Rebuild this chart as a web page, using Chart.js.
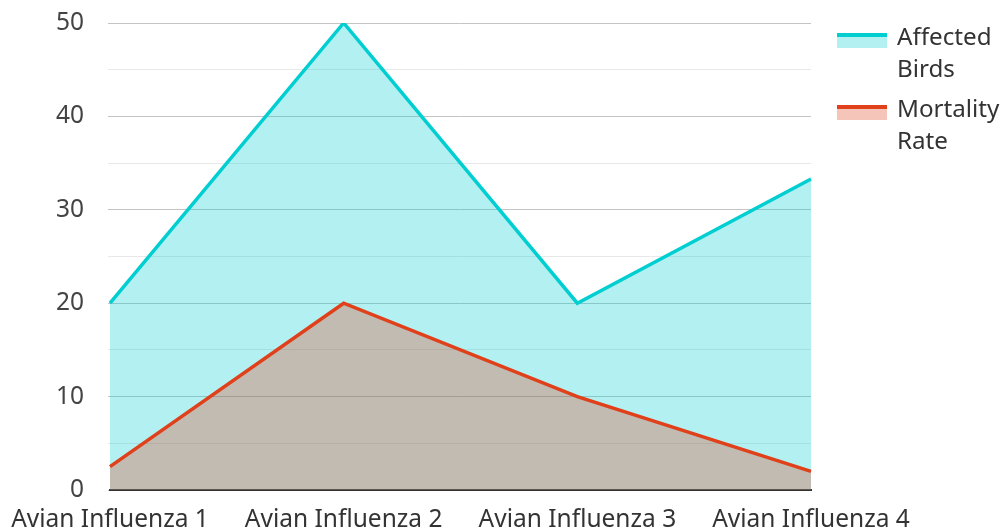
<!DOCTYPE html>
<html><head><meta charset="utf-8">
<script src="https://cdn.jsdelivr.net/npm/chart.js@4/dist/chart.umd.min.js"></script>
<style>html,body{margin:0;padding:0;overflow:hidden;background:#fff}#wrap{width:1004px;height:531px;position:relative}</style>
</head><body><div id="wrap"><canvas id="c"></canvas></div>
<script>
const categories = ["Avian Influenza 1","Avian Influenza 2","Avian Influenza 3","Avian Influenza 4"];
const affectedBirds = [20, 50, 20, 33.3];
const mortalityRate = [2.5, 20, 10, 2];
const seriesNames = [["Affected","Birds"],["Mortality","Rate"]];
const yTicks = [0,10,20,30,40,50];

const FONT = "'Noto Sans', 'Open Sans', sans-serif";
Chart.defaults.font.family = FONT;
Chart.defaults.font.size = 24.5;
Chart.defaults.color = '#444';

const legendPlugin = {
  id: 'customLegend',
  afterDraw(chart) {
    const ctx = chart.ctx;
    const boxX = 837, boxW = 50, textX = 897;
    const itemTops = [33, 105];
    ctx.save();
    ctx.font = '24.2px ' + FONT;
    ctx.textBaseline = 'alphabetic';
    chart.data.datasets.forEach((ds, i) => {
      const top = itemTops[i];
      ctx.fillStyle = ds.backgroundColor;
      ctx.fillRect(boxX, top, boxW, 15);
      ctx.fillStyle = ds.borderColor;
      ctx.fillRect(boxX, top, boxW, 4);
      ctx.fillStyle = '#333';
      seriesNames[i].forEach((line, j) => ctx.fillText(line, textX, top + 12 + j * 31.5));
    });
    ctx.restore();
  }
};

const chart = new Chart(document.getElementById('c'), {
  type: 'line',
  data: {
    labels: categories,
    datasets: [
      {label: 'Affected Birds', data: affectedBirds, borderColor: '#00CED1', backgroundColor: 'rgba(0,206,209,0.3)', fill: 'origin', borderWidth: 3.5, pointRadius: 0, tension: 0, order: 2},
      {label: 'Mortality Rate', data: mortalityRate, borderColor: '#E0401A', backgroundColor: 'rgba(224,64,26,0.3)', fill: 'origin', borderWidth: 3.5, pointRadius: 0, tension: 0, order: 1}
    ]
  },
  options: {
    responsive: true, maintainAspectRatio: false, animation: false,
    layout: {padding: {top: 0, left: 0, right: 193, bottom: 0}},
    plugins: {
      tooltip: {enabled: false},
      legend: {display: false}
    },
    scales: {
      x: {
        offset: false,
        grid: {display: false, drawTicks: false},
        border: {display: true, color: '#333', width: 2},
        ticks: {padding: 15, maxRotation: 0, autoSkip: false, color: '#333'},
        afterFit: (s) => { s.paddingLeft = 110; s.height = 41; }
      },
      y: {
        min: 0, max: 50,
        border: {display: false},
        grid: {drawTicks: true, tickLength: 2, color: (ctx) => (ctx.tick && ctx.tick.value % 10 === 0) ? '#c4c4c4' : '#e8e8e8', lineWidth: 1},
        ticks: {stepSize: 5, padding: 24, color: '#444',
          callback: (v) => yTicks.includes(v) ? String(v) : ''},
        afterFit: (s) => { s.paddingTop = 23; s.paddingBottom = 10; }
      }
    }
  },
  plugins: [legendPlugin]
});
</script></body></html>
